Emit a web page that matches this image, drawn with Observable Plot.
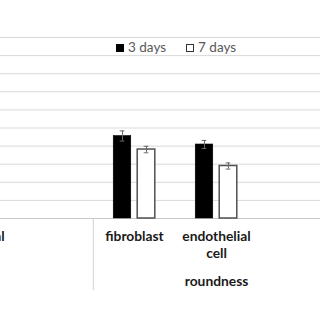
<!DOCTYPE html>
<html><head><meta charset="utf-8">
<script src="https://cdn.jsdelivr.net/npm/d3@7"></script>
<script src="https://cdn.jsdelivr.net/npm/@observablehq/plot@0.6"></script>
<style>
html,body{margin:0;padding:0;background:#fff;overflow:hidden}
#wrap{position:relative;width:320px;height:320px}
#legend{position:absolute;top:40px;left:116px;font:13.5px Lato,sans-serif;color:#595959;display:flex;align-items:center;line-height:15px}
#legend .item{display:flex;align-items:center;margin-right:20px}
#legend .sw{width:8px;height:8px;margin-right:4px;box-sizing:border-box}
</style></head><body><div id="wrap"><div id="legend"></div></div>
<script>
// ---- data ----
const categories = ["fibroblast", "endothelial cell"];
const series = ["3 days", "7 days"];
const values3 = [0.456, 0.409];
const values7 = [0.381, 0.290];
const errors3 = [0.028, 0.022];
const errors7 = [0.018, 0.017];
const groupLabel = "roundness";
const yTicks = [0, 0.1, 0.2, 0.3, 0.4, 0.5, 0.6, 0.7, 0.8, 0.9, 1.0];
// x slots of the category axis (the previous group's last category is cut off at the left edge)
const xSlots = ["prev:endothelial cell", "prev:gap", "fibroblast", "endothelial cell", "gap"];
const slotLabels = ["endothelial\ncell", "", "fibroblast", "endothelial\ncell", ""];

// ---- styles / layout ----
const seriesFill = {"3 days": "#000", "7 days": "#fff"};
const seriesStroke = {"3 days": "#000", "7 days": "#505050"};
const step = 82.4, barW = 18, gap = 6;
const xRange = [133.9 - 2.5 * step, 133.9 + 2.5 * step];

const rows = categories.flatMap((c, i) => [
  {cat: c, series: "3 days", v: values3[i], e: errors3[i]},
  {cat: c, series: "7 days", v: values7[i], e: errors7[i]}
]);
const labels = xSlots.map((k, i) => ({k, label: slotLabels[i]})).filter(d => d.label);

const off = s => s === "3 days" ? -(gap / 2 + barW / 2) : (gap / 2 + barW / 2);
const font = "Lato, sans-serif";

const marks = [
  Plot.ruleY(yTicks, {stroke: d => d === 0 ? "#c8c8c8" : "#d9d9d9", strokeWidth: 1}),
  ...series.map(s => Plot.barY(rows.filter(d => d.series === s), {
    x: "cat", y: "v", fill: seriesFill[s], stroke: seriesStroke[s], strokeWidth: s === "7 days" ? 1.5 : 0.5,
    insetLeft: s === "3 days" ? step / 2 - gap / 2 - barW : step / 2 + gap / 2,
    insetRight: s === "3 days" ? step / 2 + gap / 2 : step / 2 - gap / 2 - barW
  })),
  ...series.map(s => Plot.ruleX(rows.filter(d => d.series === s), {
    x: "cat", y1: d => d.v - d.e, y2: d => d.v + d.e, dx: off(s), stroke: "#6a6a6a", strokeWidth: 1
  })),
  ...series.map(s => Plot.tickY(rows.filter(d => d.series === s).flatMap(d => [{...d, y: d.v - d.e}, {...d, y: d.v + d.e}]), {
    x: "cat", y: "y", dx: off(s), insetLeft: step / 2 - 2.5, insetRight: step / 2 - 2.5, stroke: "#6a6a6a", strokeWidth: 1
  })),
  Plot.ruleX([xSlots[2]], {x: d => d, dx: -step / 2, insetTop: 218, insetBottom: 30, stroke: "#d0d0d0", strokeWidth: 1}),
  Plot.text(labels, {x: "k", y: () => 0, text: "label", dy: 11, lineAnchor: "top", lineHeight: 1.2,
    fontSize: 13.8, fontWeight: "bold", fill: "#1a1a1a", fontFamily: font}),
  Plot.text([groupLabel], {x: () => categories[1], y: () => 0, text: d => d, dy: 57.5, lineAnchor: "top",
    fontSize: 13.8, fontWeight: "bold", fill: "#1a1a1a", fontFamily: font})
];

const chart = Plot.plot({
  width: 320, height: 320,
  marginTop: 0, marginBottom: 0, marginLeft: 0, marginRight: 0,
  x: {type: "band", domain: xSlots, range: xRange, padding: 0, axis: null},
  y: {domain: [0, 1], range: [218, 37], axis: null},
  style: {background: "#fff", overflow: "hidden"},
  marks
});
document.getElementById("wrap").prepend(chart);

const legend = document.getElementById("legend");
series.forEach(s => {
  const it = document.createElement("div"); it.className = "item";
  const sw = document.createElement("span"); sw.className = "sw";
  sw.style.background = seriesFill[s];
  sw.style.border = "1.3px solid " + (s === "3 days" ? "#000" : "#333");
  const t = document.createElement("span"); t.textContent = s;
  it.append(sw, t); legend.append(it);
});
</script></body></html>
